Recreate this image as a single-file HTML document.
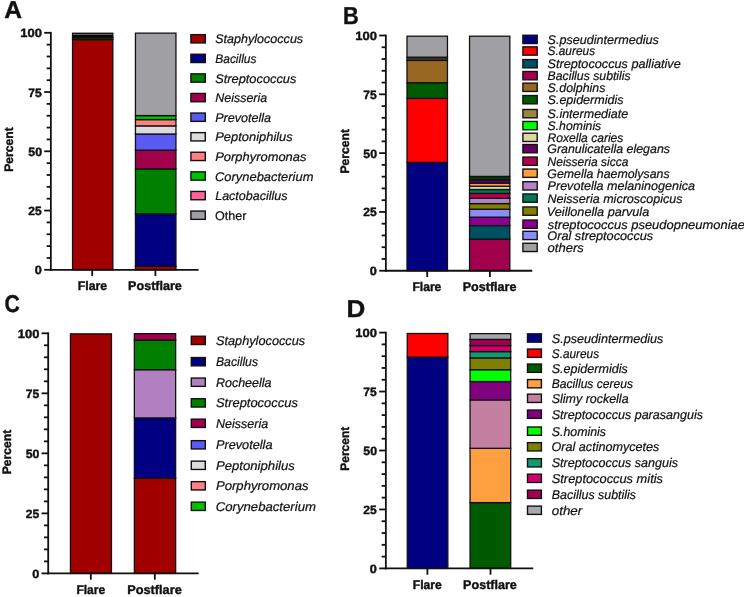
<!DOCTYPE html>
<html lang="en"><head><meta charset="utf-8"><title>Figure</title>
<style>html,body{margin:0;padding:0;background:#fff}svg{display:block}</style></head><body>
<svg width="744" height="597" viewBox="0 0 744 597" text-rendering="geometricPrecision">
<defs><filter id="soft" filterUnits="userSpaceOnUse" x="0" y="0" width="744" height="597" color-interpolation-filters="sRGB"><feGaussianBlur stdDeviation="0.38"/></filter></defs>
<rect width="744" height="597" fill="#fff"/>
<g filter="url(#soft)">
<rect width="744" height="597" fill="#fff"/>
<g stroke="#111" stroke-width="1.3">
<rect x="72.55" y="39.60" width="40.30" height="230.20" fill="#A00000"/>
<rect x="72.55" y="37.30" width="40.30" height="2.30" fill="#003200"/>
<rect x="72.55" y="33.25" width="40.30" height="4.05" fill="#050508"/>
</g>
<path d="M73.1 34.55H112.3" stroke="#a8a8ac" stroke-width="0.6"/>
<g stroke="#111" stroke-width="1.3">
<rect x="135.45" y="266.20" width="40.50" height="3.60" fill="#A00000"/>
<rect x="135.45" y="213.90" width="40.50" height="52.30" fill="#000080"/>
<rect x="135.45" y="168.90" width="40.50" height="45.00" fill="#008000"/>
<rect x="135.45" y="150.15" width="40.50" height="18.75" fill="#A0004C"/>
<rect x="135.45" y="134.00" width="40.50" height="16.15" fill="#5A5AF5"/>
<rect x="135.45" y="125.90" width="40.50" height="8.10" fill="#DCDCDC"/>
<rect x="135.45" y="119.60" width="40.50" height="6.30" fill="#FF8080"/>
<rect x="135.45" y="115.60" width="40.50" height="4.00" fill="#00C000"/>
<rect x="135.45" y="33.15" width="40.50" height="82.45" fill="#A0A0A4"/>
</g>
<g stroke="#111" stroke-width="1.8" fill="none" stroke-linecap="butt">
<path d="M50.85 31.90V270.70"/>
<path d="M49.95 269.8H198.6"/>
<path d="M44.20 269.80H50.85"/>
<path d="M46.65 257.95H50.85"/>
<path d="M46.65 246.10H50.85"/>
<path d="M46.65 234.25H50.85"/>
<path d="M46.65 222.40H50.85"/>
<path d="M44.20 210.55H50.85"/>
<path d="M46.65 198.70H50.85"/>
<path d="M46.65 186.85H50.85"/>
<path d="M46.65 175.00H50.85"/>
<path d="M46.65 163.15H50.85"/>
<path d="M44.20 151.30H50.85"/>
<path d="M46.65 139.45H50.85"/>
<path d="M46.65 127.60H50.85"/>
<path d="M46.65 115.75H50.85"/>
<path d="M46.65 103.90H50.85"/>
<path d="M44.20 92.05H50.85"/>
<path d="M46.65 80.20H50.85"/>
<path d="M46.65 68.35H50.85"/>
<path d="M46.65 56.50H50.85"/>
<path d="M46.65 44.65H50.85"/>
<path d="M44.20 32.80H50.85"/>
<path d="M92.2 269.8V276.10"/>
<path d="M155.4 269.8V276.10"/>
</g>
<text id="At0" transform="translate(34.84 274.30) scale(1.0560 1)" font-size="12" font-family="Liberation Sans, sans-serif" font-weight="bold" stroke="#111" stroke-width="0.4" stroke-linejoin="round" fill="#111">0</text>
<text id="At25" transform="translate(28.35 215.05) scale(1.0077 1)" font-size="12" font-family="Liberation Sans, sans-serif" font-weight="bold" stroke="#111" stroke-width="0.4" stroke-linejoin="round" fill="#111">25</text>
<text id="At50" transform="translate(28.34 155.80) scale(1.0275 1)" font-size="12" font-family="Liberation Sans, sans-serif" font-weight="bold" stroke="#111" stroke-width="0.4" stroke-linejoin="round" fill="#111">50</text>
<text id="At75" transform="translate(28.35 96.55) scale(1.0077 1)" font-size="12" font-family="Liberation Sans, sans-serif" font-weight="bold" stroke="#111" stroke-width="0.4" stroke-linejoin="round" fill="#111">75</text>
<text id="At100" transform="translate(20.36 37.30) scale(1.0805 1)" font-size="12" font-family="Liberation Sans, sans-serif" font-weight="bold" stroke="#111" stroke-width="0.4" stroke-linejoin="round" fill="#111">100</text>
<text id="Ax0" transform="translate(77.81 290.25) scale(0.9729 1)" font-size="12.6" font-family="Liberation Sans, sans-serif" font-weight="bold" stroke="#111" stroke-width="0.4" stroke-linejoin="round" fill="#111">Flare</text>
<text id="Ax1" transform="translate(128.10 290.25) scale(0.9972 1)" font-size="12.6" font-family="Liberation Sans, sans-serif" font-weight="bold" stroke="#111" stroke-width="0.4" stroke-linejoin="round" fill="#111">Postflare</text>
<text id="AL" transform="translate(4.20 18.30) scale(1.0090 1)" font-size="24.4" font-family="Liberation Sans, sans-serif" font-weight="bold" stroke="#111" stroke-width="0.4" stroke-linejoin="round" fill="#111">A</text>
<text id="AP" transform="translate(13.10 171.79) rotate(-90) scale(0.9877 1)" font-size="12.3" font-family="Liberation Sans, sans-serif" font-weight="bold" stroke="#111" stroke-width="0.4" stroke-linejoin="round" fill="#111">Percent</text>
<rect x="190.90" y="34.65" width="14.40" height="8.30" fill="#A00000" stroke="#111" stroke-width="1.4"/>
<text id="Al0" transform="translate(215.25 43.30) scale(1.0040 1)" font-size="12.5" font-family="Liberation Sans, sans-serif" font-style="italic" stroke="#111" stroke-width="0.22" fill="#111">Staphylococcus</text>
<rect x="190.90" y="54.25" width="14.40" height="8.30" fill="#000080" stroke="#111" stroke-width="1.4"/>
<text id="Al1" transform="translate(215.26 62.90) scale(0.9567 1)" font-size="12.5" font-family="Liberation Sans, sans-serif" font-style="italic" stroke="#111" stroke-width="0.22" fill="#111">Bacillus</text>
<rect x="190.90" y="73.85" width="14.40" height="8.30" fill="#008000" stroke="#111" stroke-width="1.4"/>
<text id="Al2" transform="translate(215.24 82.50) scale(1.0235 1)" font-size="12.5" font-family="Liberation Sans, sans-serif" font-style="italic" stroke="#111" stroke-width="0.22" fill="#111">Streptococcus</text>
<rect x="190.90" y="93.45" width="14.40" height="8.30" fill="#A0004C" stroke="#111" stroke-width="1.4"/>
<text id="Al3" transform="translate(215.25 102.10) scale(0.9961 1)" font-size="12.5" font-family="Liberation Sans, sans-serif" font-style="italic" stroke="#111" stroke-width="0.22" fill="#111">Neisseria</text>
<rect x="190.90" y="113.05" width="14.40" height="8.30" fill="#5A5AF5" stroke="#111" stroke-width="1.4"/>
<text id="Al4" transform="translate(215.25 121.70) scale(1.0036 1)" font-size="12.5" font-family="Liberation Sans, sans-serif" font-style="italic" stroke="#111" stroke-width="0.22" fill="#111">Prevotella</text>
<rect x="190.90" y="132.65" width="14.40" height="8.30" fill="#DCDCDC" stroke="#111" stroke-width="1.4"/>
<text id="Al5" transform="translate(215.24 141.30) scale(1.0328 1)" font-size="12.5" font-family="Liberation Sans, sans-serif" font-style="italic" stroke="#111" stroke-width="0.22" fill="#111">Peptoniphilus</text>
<rect x="190.90" y="152.25" width="14.40" height="8.30" fill="#FF8080" stroke="#111" stroke-width="1.4"/>
<text id="Al6" transform="translate(215.24 160.90) scale(1.0336 1)" font-size="12.5" font-family="Liberation Sans, sans-serif" font-style="italic" stroke="#111" stroke-width="0.22" fill="#111">Porphyromonas</text>
<rect x="190.90" y="171.85" width="14.40" height="8.30" fill="#00C000" stroke="#111" stroke-width="1.4"/>
<text id="Al7" transform="translate(214.98 180.50) scale(1.0345 1)" font-size="12.5" font-family="Liberation Sans, sans-serif" font-style="italic" stroke="#111" stroke-width="0.22" fill="#111">Corynebacterium</text>
<rect x="190.90" y="191.45" width="14.40" height="8.30" fill="#FF6496" stroke="#111" stroke-width="1.4"/>
<text id="Al8" transform="translate(215.25 200.10) scale(0.9979 1)" font-size="12.5" font-family="Liberation Sans, sans-serif" font-style="italic" stroke="#111" stroke-width="0.22" fill="#111">Lactobacillus</text>
<rect x="190.90" y="211.05" width="14.40" height="8.30" fill="#A0A0A4" stroke="#111" stroke-width="1.4"/>
<text id="Al9" transform="translate(215.00 219.70) scale(1.0081 1)" font-size="12.5" font-family="Liberation Sans, sans-serif" stroke="#111" stroke-width="0.22" fill="#111">Other</text>
<g stroke="#111" stroke-width="1.3">
<rect x="407.00" y="162.40" width="40.45" height="108.35" fill="#000080"/>
<rect x="407.00" y="98.40" width="40.45" height="64.00" fill="#FF0000"/>
<rect x="407.00" y="82.70" width="40.45" height="15.70" fill="#005A00"/>
<rect x="407.00" y="60.40" width="40.45" height="22.30" fill="#986822"/>
<rect x="407.00" y="57.20" width="40.45" height="3.20" fill="#3E3618"/>
<rect x="407.00" y="36.20" width="40.45" height="21.00" fill="#A0A0A4"/>
</g>
<g stroke="#111" stroke-width="1.3">
<rect x="469.55" y="239.10" width="40.30" height="31.65" fill="#A0004C"/>
<rect x="469.55" y="225.60" width="40.30" height="13.50" fill="#005064"/>
<rect x="469.55" y="217.15" width="40.30" height="8.45" fill="#8C008C"/>
<rect x="469.55" y="209.20" width="40.30" height="7.95" fill="#8C8CFF"/>
<rect x="469.55" y="203.60" width="40.30" height="5.60" fill="#808000"/>
<rect x="469.55" y="198.30" width="40.30" height="5.30" fill="#B482C8"/>
<rect x="469.55" y="193.40" width="40.30" height="4.90" fill="#B40050"/>
<rect x="469.55" y="189.50" width="40.30" height="3.90" fill="#007850"/>
<rect x="469.55" y="186.20" width="40.30" height="3.30" fill="#DCD8A0"/>
<rect x="469.55" y="183.10" width="40.30" height="3.10" fill="#FFA040"/>
<rect x="469.55" y="179.80" width="40.30" height="3.30" fill="#640064"/>
<rect x="469.55" y="176.40" width="40.30" height="3.40" fill="#004000"/>
<rect x="469.55" y="36.20" width="40.30" height="140.20" fill="#A0A0A4"/>
</g>
<g stroke="#111" stroke-width="1.8" fill="none" stroke-linecap="butt">
<path d="M385.85 34.60V271.65"/>
<path d="M384.95 270.75H532.3"/>
<path d="M379.20 270.75H385.85"/>
<path d="M381.65 258.99H385.85"/>
<path d="M381.65 247.22H385.85"/>
<path d="M381.65 235.46H385.85"/>
<path d="M381.65 223.70H385.85"/>
<path d="M379.20 211.94H385.85"/>
<path d="M381.65 200.18H385.85"/>
<path d="M381.65 188.41H385.85"/>
<path d="M381.65 176.65H385.85"/>
<path d="M381.65 164.89H385.85"/>
<path d="M379.20 153.12H385.85"/>
<path d="M381.65 141.36H385.85"/>
<path d="M381.65 129.60H385.85"/>
<path d="M381.65 117.84H385.85"/>
<path d="M381.65 106.07H385.85"/>
<path d="M379.20 94.31H385.85"/>
<path d="M381.65 82.55H385.85"/>
<path d="M381.65 70.79H385.85"/>
<path d="M381.65 59.03H385.85"/>
<path d="M381.65 47.26H385.85"/>
<path d="M379.20 35.50H385.85"/>
<path d="M427.2 270.75V277.05"/>
<path d="M489.9 270.75V277.05"/>
</g>
<text id="Bt0" transform="translate(369.84 275.25) scale(1.0560 1)" font-size="12" font-family="Liberation Sans, sans-serif" font-weight="bold" stroke="#111" stroke-width="0.4" stroke-linejoin="round" fill="#111">0</text>
<text id="Bt25" transform="translate(363.35 216.44) scale(1.0077 1)" font-size="12" font-family="Liberation Sans, sans-serif" font-weight="bold" stroke="#111" stroke-width="0.4" stroke-linejoin="round" fill="#111">25</text>
<text id="Bt50" transform="translate(363.34 157.62) scale(1.0275 1)" font-size="12" font-family="Liberation Sans, sans-serif" font-weight="bold" stroke="#111" stroke-width="0.4" stroke-linejoin="round" fill="#111">50</text>
<text id="Bt75" transform="translate(363.35 98.81) scale(1.0077 1)" font-size="12" font-family="Liberation Sans, sans-serif" font-weight="bold" stroke="#111" stroke-width="0.4" stroke-linejoin="round" fill="#111">75</text>
<text id="Bt100" transform="translate(355.36 40.00) scale(1.0805 1)" font-size="12" font-family="Liberation Sans, sans-serif" font-weight="bold" stroke="#111" stroke-width="0.4" stroke-linejoin="round" fill="#111">100</text>
<text id="Bx0" transform="translate(412.42 291.20) scale(0.9593 1)" font-size="12.6" font-family="Liberation Sans, sans-serif" font-weight="bold" stroke="#111" stroke-width="0.4" stroke-linejoin="round" fill="#111">Flare</text>
<text id="Bx1" transform="translate(462.70 291.20) scale(0.9972 1)" font-size="12.6" font-family="Liberation Sans, sans-serif" font-weight="bold" stroke="#111" stroke-width="0.4" stroke-linejoin="round" fill="#111">Postflare</text>
<text id="BL" transform="translate(342.91 24.10) scale(0.8951 1)" font-size="24.4" font-family="Liberation Sans, sans-serif" font-weight="bold" stroke="#111" stroke-width="0.4" stroke-linejoin="round" fill="#111">B</text>
<text id="BP" transform="translate(348.90 173.49) rotate(-90) scale(0.9877 1)" font-size="12.3" font-family="Liberation Sans, sans-serif" font-weight="bold" stroke="#111" stroke-width="0.4" stroke-linejoin="round" fill="#111">Percent</text>
<rect x="522.90" y="35.25" width="14.30" height="8.30" fill="#000080" stroke="#111" stroke-width="1.4"/>
<text id="Bl0" transform="translate(547.55 43.80) scale(1.0064 1)" font-size="12.5" font-family="Liberation Sans, sans-serif" font-style="italic" stroke="#111" stroke-width="0.22" fill="#111">S.pseudintermedius</text>
<rect x="522.90" y="46.85" width="14.30" height="8.30" fill="#FF0000" stroke="#111" stroke-width="1.4"/>
<text id="Bl1" transform="translate(547.56 55.40) scale(0.9495 1)" font-size="12.5" font-family="Liberation Sans, sans-serif" font-style="italic" stroke="#111" stroke-width="0.22" fill="#111">S.aureus</text>
<rect x="522.90" y="59.55" width="14.30" height="8.30" fill="#005064" stroke="#111" stroke-width="1.4"/>
<text id="Bl2" transform="translate(547.55 68.10) scale(1.0141 1)" font-size="12.5" font-family="Liberation Sans, sans-serif" font-style="italic" stroke="#111" stroke-width="0.22" fill="#111">Streptococcus palliative</text>
<rect x="522.90" y="71.50" width="14.30" height="8.30" fill="#A50050" stroke="#111" stroke-width="1.4"/>
<text id="Bl3" transform="translate(547.55 80.05) scale(0.9804 1)" font-size="12.5" font-family="Liberation Sans, sans-serif" font-style="italic" stroke="#111" stroke-width="0.22" fill="#111">Bacillus subtilis</text>
<rect x="522.90" y="83.15" width="14.30" height="8.30" fill="#986822" stroke="#111" stroke-width="1.4"/>
<text id="Bl4" transform="translate(547.55 91.70) scale(0.9914 1)" font-size="12.5" font-family="Liberation Sans, sans-serif" font-style="italic" stroke="#111" stroke-width="0.22" fill="#111">S.dolphins</text>
<rect x="522.90" y="95.55" width="14.30" height="8.30" fill="#005A00" stroke="#111" stroke-width="1.4"/>
<text id="Bl5" transform="translate(547.55 104.10) scale(1.0033 1)" font-size="12.5" font-family="Liberation Sans, sans-serif" font-style="italic" stroke="#111" stroke-width="0.22" fill="#111">S.epidermidis</text>
<rect x="522.90" y="109.50" width="14.30" height="8.30" fill="#9A863E" stroke="#111" stroke-width="1.4"/>
<text id="Bl6" transform="translate(547.55 118.05) scale(1.0013 1)" font-size="12.5" font-family="Liberation Sans, sans-serif" font-style="italic" stroke="#111" stroke-width="0.22" fill="#111">S.intermediate</text>
<rect x="522.90" y="121.45" width="14.30" height="8.30" fill="#00FF00" stroke="#111" stroke-width="1.4"/>
<text id="Bl7" transform="translate(547.56 130.00) scale(0.9780 1)" font-size="12.5" font-family="Liberation Sans, sans-serif" font-style="italic" stroke="#111" stroke-width="0.22" fill="#111">S.hominis</text>
<rect x="522.90" y="133.20" width="14.30" height="8.30" fill="#DCD8A0" stroke="#111" stroke-width="1.4"/>
<text id="Bl8" transform="translate(547.56 141.75) scale(0.9654 1)" font-size="12.5" font-family="Liberation Sans, sans-serif" font-style="italic" stroke="#111" stroke-width="0.22" fill="#111">Roxella caries</text>
<rect x="522.90" y="144.50" width="14.30" height="8.30" fill="#640064" stroke="#111" stroke-width="1.4"/>
<text id="Bl9" transform="translate(547.30 153.05) scale(0.9919 1)" font-size="12.5" font-family="Liberation Sans, sans-serif" font-style="italic" stroke="#111" stroke-width="0.22" fill="#111">Granulicatella elegans</text>
<rect x="522.90" y="157.05" width="14.30" height="8.30" fill="#B40050" stroke="#111" stroke-width="1.4"/>
<text id="Bl10" transform="translate(547.56 165.60) scale(0.9617 1)" font-size="12.5" font-family="Liberation Sans, sans-serif" font-style="italic" stroke="#111" stroke-width="0.22" fill="#111">Neisseria sicca</text>
<rect x="522.90" y="169.05" width="14.30" height="8.30" fill="#FFA040" stroke="#111" stroke-width="1.4"/>
<text id="Bl11" transform="translate(547.31 177.60) scale(0.9886 1)" font-size="12.5" font-family="Liberation Sans, sans-serif" font-style="italic" stroke="#111" stroke-width="0.22" fill="#111">Gemella haemolysans</text>
<rect x="522.90" y="181.70" width="14.30" height="8.30" fill="#B482C8" stroke="#111" stroke-width="1.4"/>
<text id="Bl12" transform="translate(547.55 190.25) scale(1.0062 1)" font-size="12.5" font-family="Liberation Sans, sans-serif" font-style="italic" stroke="#111" stroke-width="0.22" fill="#111">Prevotella melaninogenica</text>
<rect x="522.90" y="193.95" width="14.30" height="8.30" fill="#007850" stroke="#111" stroke-width="1.4"/>
<text id="Bl13" transform="translate(547.55 202.50) scale(1.0011 1)" font-size="12.5" font-family="Liberation Sans, sans-serif" font-style="italic" stroke="#111" stroke-width="0.22" fill="#111">Neisseria microscopicus</text>
<rect x="522.90" y="206.95" width="14.30" height="8.30" fill="#808000" stroke="#111" stroke-width="1.4"/>
<text id="Bl14" transform="translate(546.78 215.50) scale(1.0145 1)" font-size="12.5" font-family="Liberation Sans, sans-serif" font-style="italic" stroke="#111" stroke-width="0.22" fill="#111">Veillonella parvula</text>
<rect x="522.90" y="220.05" width="14.30" height="8.30" fill="#8C008C" stroke="#111" stroke-width="1.4"/>
<text id="Bl15" transform="translate(547.80 228.60) scale(1.0353 1)" font-size="12.5" font-family="Liberation Sans, sans-serif" font-style="italic" stroke="#111" stroke-width="0.22" fill="#111">streptococcus pseudopneumoniae</text>
<rect x="522.90" y="231.30" width="14.30" height="8.30" fill="#8C8CFF" stroke="#111" stroke-width="1.4"/>
<text id="Bl16" transform="translate(547.29 239.85) scale(1.0164 1)" font-size="12.5" font-family="Liberation Sans, sans-serif" font-style="italic" stroke="#111" stroke-width="0.22" fill="#111">Oral streptococcus</text>
<rect x="522.90" y="243.25" width="14.30" height="8.30" fill="#A0A0A4" stroke="#111" stroke-width="1.4"/>
<text id="Bl17" transform="translate(547.54 251.80) scale(1.0453 1)" font-size="12.5" font-family="Liberation Sans, sans-serif" font-style="italic" stroke="#111" stroke-width="0.22" fill="#111">others</text>
<g stroke="#111" stroke-width="1.3">
<rect x="70.45" y="333.85" width="41.00" height="239.55" fill="#A00000"/>
</g>
<g stroke="#111" stroke-width="1.3">
<rect x="134.35" y="478.20" width="41.30" height="95.20" fill="#A00000"/>
<rect x="134.35" y="417.90" width="41.30" height="60.30" fill="#000080"/>
<rect x="134.35" y="369.70" width="41.30" height="48.20" fill="#B080C0"/>
<rect x="134.35" y="340.10" width="41.30" height="29.60" fill="#008000"/>
<rect x="134.35" y="333.65" width="41.30" height="6.45" fill="#A0004C"/>
</g>
<g stroke="#111" stroke-width="1.8" fill="none" stroke-linecap="butt">
<path d="M48.2 332.40V574.30"/>
<path d="M47.30 573.4H198.7"/>
<path d="M41.55 573.40H48.2"/>
<path d="M44.00 561.39H48.2"/>
<path d="M44.00 549.39H48.2"/>
<path d="M44.00 537.38H48.2"/>
<path d="M44.00 525.38H48.2"/>
<path d="M41.55 513.38H48.2"/>
<path d="M44.00 501.37H48.2"/>
<path d="M44.00 489.37H48.2"/>
<path d="M44.00 477.36H48.2"/>
<path d="M44.00 465.36H48.2"/>
<path d="M41.55 453.35H48.2"/>
<path d="M44.00 441.35H48.2"/>
<path d="M44.00 429.34H48.2"/>
<path d="M44.00 417.33H48.2"/>
<path d="M44.00 405.33H48.2"/>
<path d="M41.55 393.32H48.2"/>
<path d="M44.00 381.32H48.2"/>
<path d="M44.00 369.31H48.2"/>
<path d="M44.00 357.31H48.2"/>
<path d="M44.00 345.31H48.2"/>
<path d="M41.55 333.30H48.2"/>
<path d="M90.8 573.4V579.70"/>
<path d="M154.8 573.4V579.70"/>
</g>
<text id="Ct0" transform="translate(32.19 577.90) scale(1.0560 1)" font-size="12" font-family="Liberation Sans, sans-serif" font-weight="bold" stroke="#111" stroke-width="0.4" stroke-linejoin="round" fill="#111">0</text>
<text id="Ct25" transform="translate(25.70 517.88) scale(1.0077 1)" font-size="12" font-family="Liberation Sans, sans-serif" font-weight="bold" stroke="#111" stroke-width="0.4" stroke-linejoin="round" fill="#111">25</text>
<text id="Ct50" transform="translate(25.69 457.85) scale(1.0275 1)" font-size="12" font-family="Liberation Sans, sans-serif" font-weight="bold" stroke="#111" stroke-width="0.4" stroke-linejoin="round" fill="#111">50</text>
<text id="Ct75" transform="translate(25.70 397.82) scale(1.0077 1)" font-size="12" font-family="Liberation Sans, sans-serif" font-weight="bold" stroke="#111" stroke-width="0.4" stroke-linejoin="round" fill="#111">75</text>
<text id="Ct100" transform="translate(17.71 337.80) scale(1.0805 1)" font-size="12" font-family="Liberation Sans, sans-serif" font-weight="bold" stroke="#111" stroke-width="0.4" stroke-linejoin="round" fill="#111">100</text>
<text id="Cx0" transform="translate(76.42 593.75) scale(0.9559 1)" font-size="12.6" font-family="Liberation Sans, sans-serif" font-weight="bold" stroke="#111" stroke-width="0.4" stroke-linejoin="round" fill="#111">Flare</text>
<text id="Cx1" transform="translate(127.19 593.75) scale(1.0122 1)" font-size="12.6" font-family="Liberation Sans, sans-serif" font-weight="bold" stroke="#111" stroke-width="0.4" stroke-linejoin="round" fill="#111">Postflare</text>
<text id="CL" transform="translate(4.55 311.70) scale(0.8667 1)" font-size="24.4" font-family="Liberation Sans, sans-serif" font-weight="bold" stroke="#111" stroke-width="0.4" stroke-linejoin="round" fill="#111">C</text>
<text id="CP" transform="translate(10.75 474.30) rotate(-90) scale(0.9899 1)" font-size="12.3" font-family="Liberation Sans, sans-serif" font-weight="bold" stroke="#111" stroke-width="0.4" stroke-linejoin="round" fill="#111">Percent</text>
<rect x="191.30" y="336.25" width="14.00" height="8.30" fill="#A00000" stroke="#111" stroke-width="1.4"/>
<text id="Cl0" transform="translate(215.95 344.90) scale(1.0040 1)" font-size="12.7" font-family="Liberation Sans, sans-serif" font-style="italic" stroke="#111" stroke-width="0.22" fill="#111">Staphylococcus</text>
<rect x="191.30" y="357.55" width="14.00" height="8.30" fill="#000080" stroke="#111" stroke-width="1.4"/>
<text id="Cl1" transform="translate(215.96 366.20) scale(0.9618 1)" font-size="12.7" font-family="Liberation Sans, sans-serif" font-style="italic" stroke="#111" stroke-width="0.22" fill="#111">Bacillus</text>
<rect x="191.30" y="378.05" width="14.00" height="8.30" fill="#B080C0" stroke="#111" stroke-width="1.4"/>
<text id="Cl2" transform="translate(215.95 386.70) scale(0.9848 1)" font-size="12.7" font-family="Liberation Sans, sans-serif" font-style="italic" stroke="#111" stroke-width="0.22" fill="#111">Rocheella</text>
<rect x="191.30" y="398.75" width="14.00" height="8.30" fill="#008000" stroke="#111" stroke-width="1.4"/>
<text id="Cl3" transform="translate(215.94 407.40) scale(1.0188 1)" font-size="12.7" font-family="Liberation Sans, sans-serif" font-style="italic" stroke="#111" stroke-width="0.22" fill="#111">Streptococcus</text>
<rect x="191.30" y="419.15" width="14.00" height="8.30" fill="#A0004C" stroke="#111" stroke-width="1.4"/>
<text id="Cl4" transform="translate(215.95 427.80) scale(0.9866 1)" font-size="12.7" font-family="Liberation Sans, sans-serif" font-style="italic" stroke="#111" stroke-width="0.22" fill="#111">Neisseria</text>
<rect x="191.30" y="440.65" width="14.00" height="8.30" fill="#5A5AF5" stroke="#111" stroke-width="1.4"/>
<text id="Cl5" transform="translate(215.95 449.30) scale(1.0027 1)" font-size="12.7" font-family="Liberation Sans, sans-serif" font-style="italic" stroke="#111" stroke-width="0.22" fill="#111">Prevotella</text>
<rect x="191.30" y="461.15" width="14.00" height="8.30" fill="#DCDCDC" stroke="#111" stroke-width="1.4"/>
<text id="Cl6" transform="translate(215.94 469.80) scale(1.0363 1)" font-size="12.7" font-family="Liberation Sans, sans-serif" font-style="italic" stroke="#111" stroke-width="0.22" fill="#111">Peptoniphilus</text>
<rect x="191.30" y="481.65" width="14.00" height="8.30" fill="#FF8080" stroke="#111" stroke-width="1.4"/>
<text id="Cl7" transform="translate(215.94 490.30) scale(1.0337 1)" font-size="12.7" font-family="Liberation Sans, sans-serif" font-style="italic" stroke="#111" stroke-width="0.22" fill="#111">Porphyromonas</text>
<rect x="191.30" y="502.15" width="14.00" height="8.30" fill="#00C000" stroke="#111" stroke-width="1.4"/>
<text id="Cl8" transform="translate(215.68 510.80) scale(1.0381 1)" font-size="12.7" font-family="Liberation Sans, sans-serif" font-style="italic" stroke="#111" stroke-width="0.22" fill="#111">Corynebacterium</text>
<g stroke="#111" stroke-width="1.3">
<rect x="407.25" y="357.15" width="40.60" height="211.25" fill="#000080"/>
<rect x="407.25" y="333.50" width="40.60" height="23.65" fill="#FF0000"/>
</g>
<g stroke="#111" stroke-width="1.3">
<rect x="470.05" y="502.60" width="40.65" height="65.80" fill="#005A00"/>
<rect x="470.05" y="448.30" width="40.65" height="54.30" fill="#FFA040"/>
<rect x="470.05" y="399.90" width="40.65" height="48.40" fill="#C480A0"/>
<rect x="470.05" y="381.55" width="40.65" height="18.35" fill="#800080"/>
<rect x="470.05" y="369.70" width="40.65" height="11.85" fill="#00FF00"/>
<rect x="470.05" y="357.90" width="40.65" height="11.80" fill="#808000"/>
<rect x="470.05" y="351.60" width="40.65" height="6.30" fill="#109C70"/>
<rect x="470.05" y="345.60" width="40.65" height="6.00" fill="#D0006C"/>
<rect x="470.05" y="339.40" width="40.65" height="6.20" fill="#A00050"/>
<rect x="470.05" y="333.65" width="40.65" height="5.75" fill="#A8A8AC"/>
</g>
<g stroke="#111" stroke-width="1.8" fill="none" stroke-linecap="butt">
<path d="M385.85 331.70V569.30"/>
<path d="M384.95 568.4H533.25"/>
<path d="M379.20 568.40H385.85"/>
<path d="M381.65 556.61H385.85"/>
<path d="M381.65 544.82H385.85"/>
<path d="M381.65 533.03H385.85"/>
<path d="M381.65 521.24H385.85"/>
<path d="M379.20 509.45H385.85"/>
<path d="M381.65 497.66H385.85"/>
<path d="M381.65 485.87H385.85"/>
<path d="M381.65 474.08H385.85"/>
<path d="M381.65 462.29H385.85"/>
<path d="M379.20 450.50H385.85"/>
<path d="M381.65 438.71H385.85"/>
<path d="M381.65 426.92H385.85"/>
<path d="M381.65 415.13H385.85"/>
<path d="M381.65 403.34H385.85"/>
<path d="M379.20 391.55H385.85"/>
<path d="M381.65 379.76H385.85"/>
<path d="M381.65 367.97H385.85"/>
<path d="M381.65 356.18H385.85"/>
<path d="M381.65 344.39H385.85"/>
<path d="M379.20 332.60H385.85"/>
<path d="M427.4 568.4V574.70"/>
<path d="M490.5 568.4V574.70"/>
</g>
<text id="Dt0" transform="translate(369.84 572.90) scale(1.0560 1)" font-size="12" font-family="Liberation Sans, sans-serif" font-weight="bold" stroke="#111" stroke-width="0.4" stroke-linejoin="round" fill="#111">0</text>
<text id="Dt25" transform="translate(363.35 513.95) scale(1.0077 1)" font-size="12" font-family="Liberation Sans, sans-serif" font-weight="bold" stroke="#111" stroke-width="0.4" stroke-linejoin="round" fill="#111">25</text>
<text id="Dt50" transform="translate(363.34 455.00) scale(1.0275 1)" font-size="12" font-family="Liberation Sans, sans-serif" font-weight="bold" stroke="#111" stroke-width="0.4" stroke-linejoin="round" fill="#111">50</text>
<text id="Dt75" transform="translate(363.35 396.05) scale(1.0077 1)" font-size="12" font-family="Liberation Sans, sans-serif" font-weight="bold" stroke="#111" stroke-width="0.4" stroke-linejoin="round" fill="#111">75</text>
<text id="Dt100" transform="translate(355.36 337.10) scale(1.0805 1)" font-size="12" font-family="Liberation Sans, sans-serif" font-weight="bold" stroke="#111" stroke-width="0.4" stroke-linejoin="round" fill="#111">100</text>
<text id="Dx0" transform="translate(412.82 588.80) scale(0.9627 1)" font-size="12.6" font-family="Liberation Sans, sans-serif" font-weight="bold" stroke="#111" stroke-width="0.4" stroke-linejoin="round" fill="#111">Flare</text>
<text id="Dx1" transform="translate(463.10 588.80) scale(0.9972 1)" font-size="12.6" font-family="Liberation Sans, sans-serif" font-weight="bold" stroke="#111" stroke-width="0.4" stroke-linejoin="round" fill="#111">Postflare</text>
<text id="DL" transform="translate(346.50 317.30) scale(1.0656 1)" font-size="24.4" font-family="Liberation Sans, sans-serif" font-weight="bold" stroke="#111" stroke-width="0.4" stroke-linejoin="round" fill="#111">D</text>
<text id="DP" transform="translate(349.10 470.79) rotate(-90) scale(0.9777 1)" font-size="12.3" font-family="Liberation Sans, sans-serif" font-weight="bold" stroke="#111" stroke-width="0.4" stroke-linejoin="round" fill="#111">Percent</text>
<rect x="527.50" y="333.85" width="13.90" height="8.30" fill="#000080" stroke="#111" stroke-width="1.4"/>
<text id="Dl0" transform="translate(551.75 342.60) scale(0.9951 1)" font-size="12.7" font-family="Liberation Sans, sans-serif" font-style="italic" stroke="#111" stroke-width="0.22" fill="#111">S.pseudintermedius</text>
<rect x="527.50" y="349.05" width="13.90" height="8.30" fill="#FF0000" stroke="#111" stroke-width="1.4"/>
<text id="Dl1" transform="translate(551.77 357.80) scale(0.9313 1)" font-size="12.7" font-family="Liberation Sans, sans-serif" font-style="italic" stroke="#111" stroke-width="0.22" fill="#111">S.aureus</text>
<rect x="527.50" y="364.05" width="13.90" height="8.30" fill="#005A00" stroke="#111" stroke-width="1.4"/>
<text id="Dl2" transform="translate(551.75 372.80) scale(0.9895 1)" font-size="12.7" font-family="Liberation Sans, sans-serif" font-style="italic" stroke="#111" stroke-width="0.22" fill="#111">S.epidermidis</text>
<rect x="527.50" y="379.55" width="13.90" height="8.30" fill="#FFA040" stroke="#111" stroke-width="1.4"/>
<text id="Dl3" transform="translate(551.76 388.30) scale(0.9529 1)" font-size="12.7" font-family="Liberation Sans, sans-serif" font-style="italic" stroke="#111" stroke-width="0.22" fill="#111">Bacillus cereus</text>
<rect x="527.50" y="394.15" width="13.90" height="8.30" fill="#C480A0" stroke="#111" stroke-width="1.4"/>
<text id="Dl4" transform="translate(551.75 402.90) scale(0.9814 1)" font-size="12.7" font-family="Liberation Sans, sans-serif" font-style="italic" stroke="#111" stroke-width="0.22" fill="#111">Slimy rockella</text>
<rect x="527.50" y="410.05" width="13.90" height="8.30" fill="#800080" stroke="#111" stroke-width="1.4"/>
<text id="Dl5" transform="translate(551.75 418.80) scale(0.9882 1)" font-size="12.7" font-family="Liberation Sans, sans-serif" font-style="italic" stroke="#111" stroke-width="0.22" fill="#111">Streptococcus parasanguis</text>
<rect x="527.50" y="427.00" width="13.90" height="8.30" fill="#00FF00" stroke="#111" stroke-width="1.4"/>
<text id="Dl6" transform="translate(551.76 435.75) scale(0.9738 1)" font-size="12.7" font-family="Liberation Sans, sans-serif" font-style="italic" stroke="#111" stroke-width="0.22" fill="#111">S.hominis</text>
<rect x="527.50" y="442.65" width="13.90" height="8.30" fill="#808000" stroke="#111" stroke-width="1.4"/>
<text id="Dl7" transform="translate(551.50 451.40) scale(0.9935 1)" font-size="12.7" font-family="Liberation Sans, sans-serif" font-style="italic" stroke="#111" stroke-width="0.22" fill="#111">Oral actinomycetes</text>
<rect x="527.50" y="458.65" width="13.90" height="8.30" fill="#109C70" stroke="#111" stroke-width="1.4"/>
<text id="Dl8" transform="translate(551.75 467.40) scale(0.9886 1)" font-size="12.7" font-family="Liberation Sans, sans-serif" font-style="italic" stroke="#111" stroke-width="0.22" fill="#111">Streptococcus sanguis</text>
<rect x="527.50" y="474.15" width="13.90" height="8.30" fill="#D0006C" stroke="#111" stroke-width="1.4"/>
<text id="Dl9" transform="translate(551.75 482.90) scale(1.0110 1)" font-size="12.7" font-family="Liberation Sans, sans-serif" font-style="italic" stroke="#111" stroke-width="0.22" fill="#111">Streptococcus mitis</text>
<rect x="527.50" y="490.15" width="13.90" height="8.30" fill="#A00050" stroke="#111" stroke-width="1.4"/>
<text id="Dl10" transform="translate(551.75 498.90) scale(0.9801 1)" font-size="12.7" font-family="Liberation Sans, sans-serif" font-style="italic" stroke="#111" stroke-width="0.22" fill="#111">Bacillus subtilis</text>
<rect x="527.50" y="506.10" width="13.90" height="8.30" fill="#A8A8AC" stroke="#111" stroke-width="1.4"/>
<text id="Dl11" transform="translate(551.74 514.85) scale(1.0530 1)" font-size="12.7" font-family="Liberation Sans, sans-serif" font-style="italic" stroke="#111" stroke-width="0.22" fill="#111">other</text>
</g>
</svg></body></html>
